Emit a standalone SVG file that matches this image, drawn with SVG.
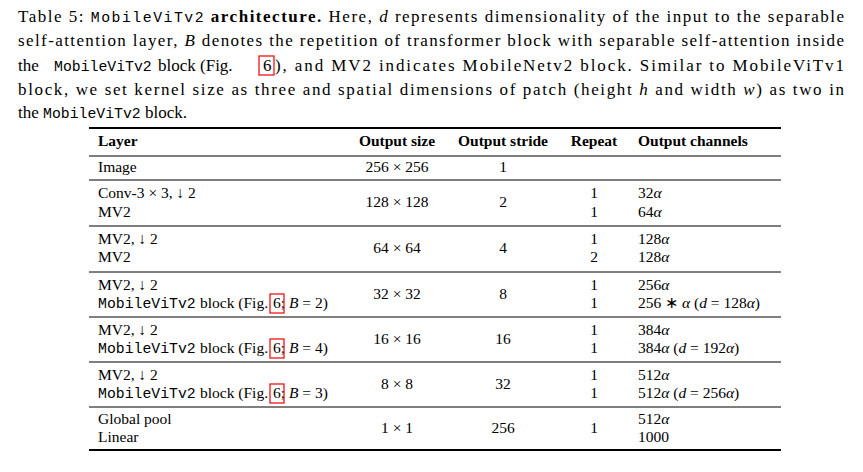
<svg xmlns="http://www.w3.org/2000/svg" width="863" height="472" viewBox="0 0 863 472">
<style>
text{font-family:"Liberation Serif","Times New Roman",serif;font-size:17px;fill:#000}
.t{font-size:15.5px}
.m{font-family:"Liberation Mono","Courier New",monospace;font-size:14.8px}
.b{font-weight:bold}
.i{font-style:italic}
.c{text-anchor:middle}
.box{fill:none;stroke:#e00;stroke-width:1.2}
.r{stroke:#000;stroke-width:1}
.R{stroke:#000;stroke-width:2}
</style>
<rect width="863" height="472" fill="#fff"/>
<g id="caption">
<text x="18" y="22" textLength="826" lengthAdjust="spacing">Table 5: <tspan class="m">MobileViTv2</tspan> <tspan class="b">architecture.</tspan> Here, <tspan class="i">d</tspan> represents dimensionality of the input to the separable</text>
<text x="18" y="46" textLength="826" lengthAdjust="spacing">self-attention layer, <tspan class="i">B</tspan> denotes the repetition of transformer block with separable self-attention inside</text>
<text y="71"><tspan x="18">the</tspan><tspan class="m" x="54">MobileViTv2</tspan><tspan x="158">block (Fig.</tspan><tspan x="263">6</tspan></text>
<text x="275" y="71" textLength="569" lengthAdjust="spacing">), and MV2 indicates MobileNetv2 block. Similar to MobileViTv1</text>
<text x="18" y="95" textLength="826" lengthAdjust="spacing">block, we set kernel size as three and spatial dimensions of patch (height <tspan class="i">h</tspan> and width <tspan class="i">w</tspan>) as two in</text>
<text x="18" y="118">the <tspan class="m">MobileViTv2</tspan> block.</text>
<rect class="box" x="259" y="56" width="15" height="19"/>
</g>
<g id="rules">
<line class="R" x1="89" y1="128" x2="781" y2="128"/>
<line class="r" x1="89" y1="156" x2="781" y2="156"/>
<line class="r" x1="89" y1="180" x2="781" y2="180"/>
<line class="r" x1="89" y1="226" x2="781" y2="226"/>
<line class="r" x1="89" y1="272" x2="781" y2="272"/>
<line class="r" x1="89" y1="317" x2="781" y2="317"/>
<line class="r" x1="89" y1="362" x2="781" y2="362"/>
<line class="r" x1="89" y1="407" x2="781" y2="407"/>
<line class="R" x1="89" y1="450" x2="781" y2="450"/>
</g>
<g id="header">
<text class="t b" x="98" y="146">Layer</text>
<text class="t b c" x="397" y="146">Output size</text>
<text class="t b c" x="503" y="146">Output stride</text>
<text class="t b c" x="594" y="146">Repeat</text>
<text class="t b" x="638" y="146">Output channels</text>
</g>
<g id="row1">
<text class="t" x="98" y="172">Image</text>
<text class="t c" x="397" y="172">256 × 256</text>
<text class="t c" x="503" y="172">1</text>
</g>
<g id="row2">
<text class="t" x="98" y="198">Conv-3 × 3, ↓ 2</text>
<text class="t" x="98" y="217">MV2</text>
<text class="t c" x="397" y="207">128 × 128</text>
<text class="t c" x="503" y="207">2</text>
<text class="t c" x="594" y="198">1</text><text class="t c" x="594" y="217">1</text>
<text class="t" x="638" y="198">32<tspan class="i">α</tspan></text>
<text class="t" x="638" y="217">64<tspan class="i">α</tspan></text>
</g>
<g id="row3">
<text class="t" x="98" y="244">MV2, ↓ 2</text>
<text class="t" x="98" y="262">MV2</text>
<text class="t c" x="397" y="253">64 × 64</text>
<text class="t c" x="503" y="253">4</text>
<text class="t c" x="594" y="244">1</text><text class="t c" x="594" y="262">2</text>
<text class="t" x="638" y="244">128<tspan class="i">α</tspan></text>
<text class="t" x="638" y="262">128<tspan class="i">α</tspan></text>
</g>
<g id="row4">
<text class="t" x="98" y="290">MV2, ↓ 2</text>
<text class="t" y="308"><tspan class="m" x="98">MobileViTv2</tspan><tspan x="200">block (Fig.</tspan><tspan x="273">6</tspan>; <tspan class="i">B</tspan> = 2)</text>
<rect class="box" x="270" y="294" width="14" height="19"/>
<text class="t c" x="397" y="299">32 × 32</text>
<text class="t c" x="503" y="299">8</text>
<text class="t c" x="594" y="290">1</text><text class="t c" x="594" y="308">1</text>
<text class="t" x="638" y="290">256<tspan class="i">α</tspan></text>
<text class="t" x="638" y="308">256 ∗ <tspan class="i">α</tspan> (<tspan class="i">d</tspan> = 128<tspan class="i">α</tspan>)</text>
</g>
<g id="row5">
<text class="t" x="98" y="335">MV2, ↓ 2</text>
<text class="t" y="353"><tspan class="m" x="98">MobileViTv2</tspan><tspan x="200">block (Fig.</tspan><tspan x="273">6</tspan>; <tspan class="i">B</tspan> = 4)</text>
<rect class="box" x="270" y="339" width="14" height="19"/>
<text class="t c" x="397" y="344">16 × 16</text>
<text class="t c" x="503" y="344">16</text>
<text class="t c" x="594" y="335">1</text><text class="t c" x="594" y="353">1</text>
<text class="t" x="638" y="335">384<tspan class="i">α</tspan></text>
<text class="t" x="638" y="353">384<tspan class="i">α</tspan> (<tspan class="i">d</tspan> = 192<tspan class="i">α</tspan>)</text>
</g>
<g id="row6">
<text class="t" x="98" y="380">MV2, ↓ 2</text>
<text class="t" y="398"><tspan class="m" x="98">MobileViTv2</tspan><tspan x="200">block (Fig.</tspan><tspan x="273">6</tspan>; <tspan class="i">B</tspan> = 3)</text>
<rect class="box" x="270" y="384" width="14" height="19"/>
<text class="t c" x="397" y="389">8 × 8</text>
<text class="t c" x="503" y="389">32</text>
<text class="t c" x="594" y="380">1</text><text class="t c" x="594" y="398">1</text>
<text class="t" x="638" y="380">512<tspan class="i">α</tspan></text>
<text class="t" x="638" y="398">512<tspan class="i">α</tspan> (<tspan class="i">d</tspan> = 256<tspan class="i">α</tspan>)</text>
</g>
<g id="row7">
<text class="t" x="98" y="424">Global pool</text>
<text class="t" x="98" y="442">Linear</text>
<text class="t c" x="397" y="433">1 × 1</text>
<text class="t c" x="503" y="433">256</text>
<text class="t c" x="594" y="433">1</text>
<text class="t" x="638" y="424">512<tspan class="i">α</tspan></text>
<text class="t" x="638" y="442">1000</text>
</g>
</svg>
